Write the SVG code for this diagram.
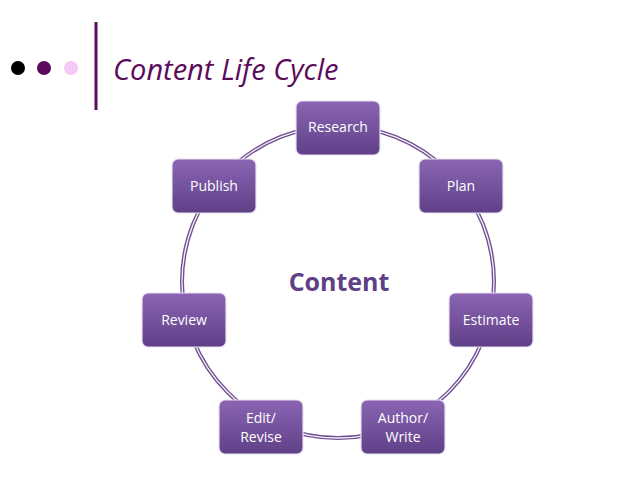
<svg xmlns="http://www.w3.org/2000/svg" width="638" height="479" viewBox="0 0 638 479">
<defs>
<linearGradient id="g" x1="0" y1="0" x2="0" y2="1"><stop offset="0" stop-color="#8b65b3"/><stop offset="1" stop-color="#5f4087"/></linearGradient>
<style>
.n rect{fill:url(#g);stroke:#e8e0f0;stroke-width:1.2}
.n text{fill:#fff;font-family:"Open Sans","Liberation Sans",sans-serif;font-size:14px;text-anchor:middle}
</style>
</defs>
<rect width="638" height="479" fill="#fff"/>
<circle cx="18" cy="68" r="7" fill="#000"/>
<circle cx="44" cy="68" r="7" fill="#5c0a5c"/>
<circle cx="71" cy="68" r="7" fill="#f5c8f5"/>
<rect x="94.5" y="22" width="3" height="88" fill="#5c0a5c"/>
<text x="113" y="80" font-family="Open Sans,Liberation Sans,sans-serif" font-style="italic" font-size="29" fill="#5c0a5c">Content Life Cycle</text>
<g id="connectors">
<circle cx="338" cy="282" r="156" fill="none" stroke="#6e4f90" stroke-width="4"/>
<circle cx="338" cy="282" r="156" fill="none" stroke="#f4f0f8" stroke-width="1.3"/>
</g>
<text x="339" y="291" font-family="Open Sans,Liberation Sans,sans-serif" font-weight="bold" font-size="25" fill="#5f4087" text-anchor="middle">Content</text>
<g id="research" class="n"><rect x="296" y="101" width="84" height="54" rx="6"/><text x="338" y="132">Research</text></g>
<g id="plan" class="n"><rect x="419" y="159" width="84" height="54" rx="6"/><text x="461" y="191">Plan</text></g>
<g id="estimate" class="n"><rect x="449" y="293" width="84" height="54" rx="6"/><text x="491" y="325">Estimate</text></g>
<g id="author" class="n"><rect x="361" y="400" width="84" height="54" rx="6"/><text x="403" y="423">Author/</text><text x="403" y="442">Write</text></g>
<g id="edit" class="n"><rect x="219" y="400" width="84" height="54" rx="6"/><text x="261" y="423">Edit/</text><text x="261" y="442">Revise</text></g>
<g id="review" class="n"><rect x="142" y="293" width="84" height="54" rx="6"/><text x="184" y="325">Review</text></g>
<g id="publish" class="n"><rect x="172" y="159" width="84" height="54" rx="6"/><text x="214" y="191">Publish</text></g>
</svg>
